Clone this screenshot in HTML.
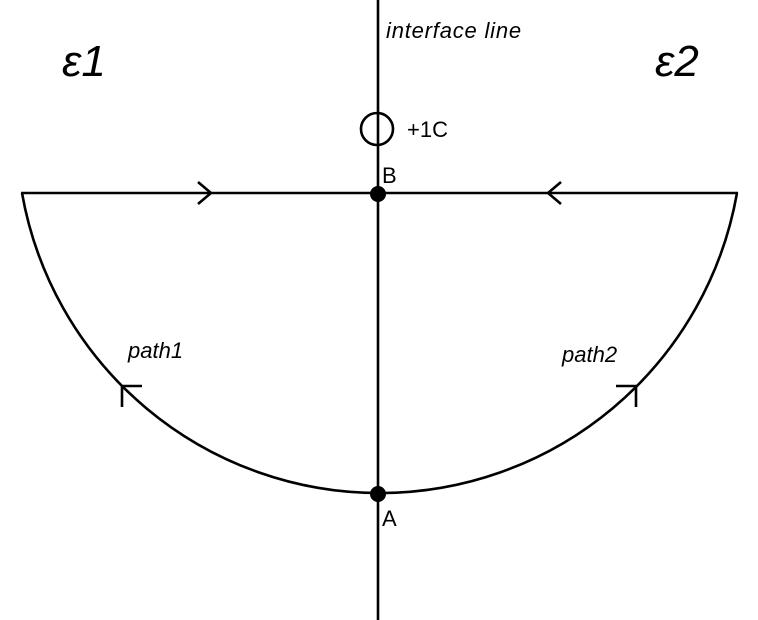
<!DOCTYPE html>
<html><head><style>body{margin:0;background:#fff}svg{display:block}</style></head><body>
<svg width="758" height="620" viewBox="0 0 758 620" xmlns="http://www.w3.org/2000/svg">
<rect width="758" height="620" fill="#fff"/>
<g stroke="#000" stroke-width="2.6" fill="none">
<line x1="378" y1="0" x2="378" y2="620"/>
<line x1="21" y1="193" x2="738" y2="193"/>
<path d="M22,193 A363,363 0 0 0 737,193"/>
<circle cx="377" cy="129" r="16"/>
<polyline points="198,182 211,193 198,204"/>
<polyline points="561,182 548,193 561,204"/>
<polyline points="142,386 122,386 122,407"/>
<polyline points="616,386 636,386 636,407"/>
</g>
<circle cx="378" cy="194" r="8"/>
<circle cx="378" cy="494" r="8"/>
<g font-family="Liberation Sans, sans-serif" fill="#000">
<text x="386" y="38" font-size="22" font-style="italic" letter-spacing="0.8">interface line</text>
<text x="62" y="76" font-size="44" font-style="italic">ε1</text>
<text x="655" y="76" font-size="44" font-style="italic">ε2</text>
<text x="407" y="137" font-size="22">+1C</text>
<text x="382" y="183" font-size="22">B</text>
<text x="382" y="526" font-size="22">A</text>
<text x="128" y="358" font-size="22" font-style="italic">path1</text>
<text x="562" y="362" font-size="22" font-style="italic">path2</text>
</g>
</svg>
</body></html>
